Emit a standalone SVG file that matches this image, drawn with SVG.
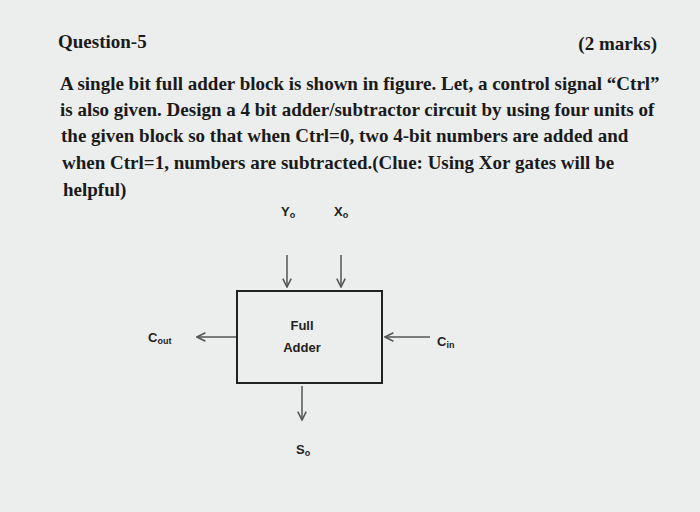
<svg xmlns="http://www.w3.org/2000/svg" width="700" height="512" viewBox="0 0 700 512">
<defs>
<marker id="ah" viewBox="0 0 10 10" refX="9" refY="5" markerWidth="7" markerHeight="7" orient="auto"><path d="M1,1 L9,5 L1,9" fill="none" stroke="#555" stroke-width="1.5"/></marker>
<style>
.t{font-family:"Liberation Serif","DejaVu Serif",serif;font-size:19px;fill:#1a1a1a;font-weight:bold}
.s{font-family:"Liberation Sans",Arial,sans-serif;font-size:13px;fill:#222;font-weight:bold}
.c{stroke:#555;stroke-width:1.5;fill:none;marker-end:url(#ah)}
</style>
</defs>
<rect width="700" height="512" fill="#eceeed"/>
<g id="text">
<text class="t" x="58" y="48">Question-5</text>
<text class="t" x="657" y="50" text-anchor="end">(2 marks)</text>
<text class="t" x="60" y="90">A single bit full adder block is shown in figure. Let, a control signal “Ctrl”</text>
<text class="t" x="60" y="116">is also given. Design a 4 bit adder/subtractor circuit by using four units of</text>
<text class="t" x="61" y="142">the given block so that when Ctrl=0, two 4-bit numbers are added and</text>
<text class="t" x="62" y="169">when Ctrl=1, numbers are subtracted.(Clue: Using Xor gates will be</text>
<text class="t" x="63" y="196">helpful)</text>
</g>
<g id="adder">
<rect x="237" y="291" width="145" height="92" fill="none" stroke="#222" stroke-width="2"/>
<text class="s" x="302" y="330" text-anchor="middle">Full</text>
<text class="s" x="302" y="352" text-anchor="middle">Adder</text>
</g>
<g id="labels">
<text class="s" x="281" y="216">Y<tspan font-size="9" dy="2">o</tspan></text>
<text class="s" x="334" y="216">X<tspan font-size="9" dy="2">o</tspan></text>
<text class="s" x="148" y="342">C<tspan font-size="9" dy="2">out</tspan></text>
<text class="s" x="437" y="346">C<tspan font-size="9" dy="2">in</tspan></text>
<text class="s" x="296" y="454">S<tspan font-size="9" dy="2">o</tspan></text>
</g>
<g id="connectors">
<line class="c" x1="287" y1="255" x2="287" y2="287"/>
<line class="c" x1="341" y1="255" x2="341" y2="287"/>
<line class="c" x1="236" y1="337" x2="197" y2="337"/>
<line class="c" x1="430" y1="337" x2="385" y2="337"/>
<line class="c" x1="302" y1="386" x2="302" y2="420"/>
</g>
</svg>
